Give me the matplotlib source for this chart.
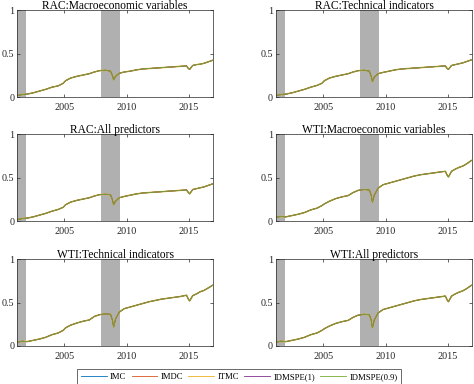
import numpy as np
import matplotlib
matplotlib.use("Agg")
import matplotlib.pyplot as plt

plt.rcParams["font.family"] = ["Liberation Serif", "DejaVu Serif"]

# sample dates (decimal years)
dates = [2001.25, 2001.6, 2002.0, 2002.5, 2003.0, 2003.5, 2004.0, 2004.5, 2004.9, 2005.1,
         2005.5, 2006.0, 2006.5, 2007.0, 2007.4, 2007.8, 2008.3, 2008.7, 2008.85, 2008.95,
         2009.1, 2009.4, 2009.8, 2010.3, 2010.8, 2011.3, 2011.8, 2012.3, 2012.8, 2013.3,
         2013.8, 2014.3, 2014.8, 2014.95, 2015.05, 2015.3, 2015.6, 2015.9, 2016.2, 2016.5,
         2016.9]

rac_macro = [0.02, 0.03, 0.035, 0.05, 0.07, 0.09, 0.115, 0.13, 0.16, 0.19,
             0.22, 0.24, 0.255, 0.27, 0.29, 0.305, 0.31, 0.30, 0.25, 0.20,
             0.24, 0.275, 0.29, 0.30, 0.315, 0.325, 0.33, 0.335, 0.34, 0.345,
             0.35, 0.355, 0.36, 0.33, 0.32, 0.365, 0.375, 0.38, 0.39, 0.405,
             0.425]
rac_tech = [0.02, 0.03, 0.035, 0.05, 0.07, 0.09, 0.115, 0.135, 0.16, 0.19,
            0.22, 0.24, 0.255, 0.27, 0.29, 0.305, 0.31, 0.30, 0.24, 0.18,
            0.23, 0.27, 0.285, 0.30, 0.315, 0.325, 0.33, 0.335, 0.34, 0.345,
            0.35, 0.355, 0.36, 0.33, 0.32, 0.365, 0.375, 0.385, 0.395, 0.41,
            0.43]
rac_all = [0.02, 0.03, 0.035, 0.05, 0.07, 0.09, 0.115, 0.135, 0.16, 0.19,
           0.22, 0.24, 0.255, 0.27, 0.29, 0.305, 0.31, 0.305, 0.25, 0.19,
           0.23, 0.27, 0.285, 0.30, 0.315, 0.325, 0.33, 0.335, 0.34, 0.345,
           0.35, 0.355, 0.36, 0.33, 0.315, 0.365, 0.375, 0.385, 0.395, 0.41,
           0.43]
wti_macro = [0.045, 0.055, 0.05, 0.065, 0.08, 0.10, 0.13, 0.15, 0.18, 0.20,
             0.23, 0.26, 0.28, 0.295, 0.33, 0.355, 0.365, 0.36, 0.30, 0.22,
             0.30, 0.38, 0.42, 0.44, 0.46, 0.48, 0.50, 0.52, 0.535, 0.545,
             0.555, 0.565, 0.575, 0.53, 0.51, 0.575, 0.60, 0.62, 0.635, 0.66,
             0.70]
wti_tech = [0.045, 0.055, 0.05, 0.065, 0.08, 0.10, 0.13, 0.15, 0.18, 0.21,
            0.24, 0.265, 0.285, 0.30, 0.34, 0.36, 0.37, 0.365, 0.30, 0.22,
            0.31, 0.39, 0.43, 0.45, 0.47, 0.49, 0.51, 0.525, 0.54, 0.55,
            0.56, 0.57, 0.585, 0.54, 0.52, 0.58, 0.60, 0.625, 0.64, 0.665,
            0.70]
wti_all = [0.045, 0.055, 0.05, 0.065, 0.08, 0.10, 0.13, 0.15, 0.18, 0.20,
           0.23, 0.26, 0.28, 0.295, 0.33, 0.355, 0.365, 0.36, 0.30, 0.21,
           0.30, 0.38, 0.42, 0.44, 0.46, 0.48, 0.50, 0.52, 0.535, 0.545,
           0.555, 0.565, 0.575, 0.53, 0.51, 0.575, 0.60, 0.62, 0.635, 0.66,
           0.70]

titles = ["RAC:Macroeconomic variables", "RAC:Technical indicators",
          "RAC:All predictors", "WTI:Macroeconomic variables",
          "WTI:Technical indicators", "WTI:All predictors"]
panel_data = [rac_macro, rac_tech, rac_all, wti_macro, wti_tech, wti_all]

methods = ["IMC", "IMDC", "ITMC", "IDMSPE(1)", "IDMSPE(0.9)"]
colors = ["#0072BD", "#D95319", "#EDB120", "#7E2F8E", "#77AC30"]
widths = [0.6, 0.6, 1.1, 0.6, 0.6]

recessions = [(2001.2, 2001.9), (2007.92, 2009.45)]

fig = plt.figure(figsize=(4.74, 3.84), dpi=100)
lefts = [0.036, 0.582]
bottoms = [0.747, 0.424, 0.099]
w, h = 0.414, 0.226

for i, (title, vals) in enumerate(zip(titles, panel_data)):
    ax = fig.add_axes([lefts[i % 2], bottoms[i // 2], w, h])
    for a, b in recessions:
        ax.axvspan(a, b, color="#b0b0b0", lw=0)
    for m, c, lw in zip(methods, colors, widths):
        ax.plot(dates, vals, color=c, lw=lw, label=m)
    ax.set_xlim(2001.2, 2016.95)
    ax.set_ylim(0, 1)
    ax.set_xticks([2005, 2010, 2015])
    ax.set_yticks([0, 0.5, 1])
    ax.set_yticklabels(["0", "0.5", "1"])
    ax.tick_params(direction="in", length=2.5, width=0.5, labelsize=7.3,
                   top=True, right=True, colors="#262626")
    ax.tick_params(axis="x", pad=4)
    ax.tick_params(axis="y", pad=2)
    for s in ax.spines.values():
        s.set_color("#262626")
        s.set_linewidth(0.5)
    ax.set_title(title, fontsize=8.3, pad=1)
    if i == 0:
        handles, labels = ax.get_legend_handles_labels()

leg = fig.legend(handles, labels, loc="lower center", bbox_to_anchor=(0.505, -0.012),
                 ncol=5, fontsize=6.2, frameon=True, fancybox=False,
                 edgecolor="#262626", handlelength=3.0, columnspacing=0.6,
                 handletextpad=0.4, borderpad=0.4)
leg.get_frame().set_linewidth(0.6)
for ln in leg.get_lines():
    ln.set_linewidth(0.6)

fig.savefig("out.png", dpi=100)
